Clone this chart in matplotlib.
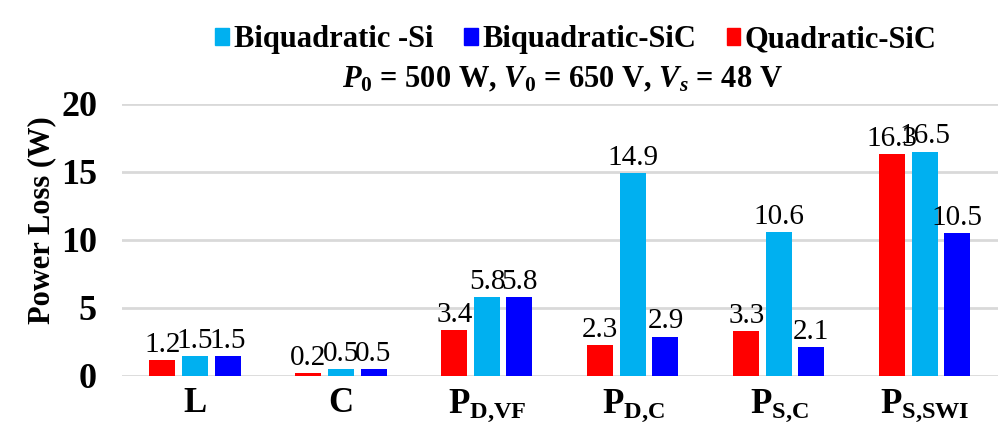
import numpy as np
import matplotlib.pyplot as plt
from matplotlib.patches import Patch

plt.rcParams['font.family'] = 'Liberation Serif'
plt.rcParams['mathtext.fontset'] = 'custom'
plt.rcParams['mathtext.rm'] = 'Liberation Serif:bold'
plt.rcParams['mathtext.bf'] = 'Liberation Serif:bold'
plt.rcParams['mathtext.it'] = 'Liberation Serif:italic:bold'

# --- data ---
categories = ["L", "C", r"$\mathbf{P_{D{,}VF}}$", r"$\mathbf{P_{D{,}C}}$",
              r"$\mathbf{P_{S{,}C}}$", r"$\mathbf{P_{S{,}SWI}}$"]
quad_sic = [1.2, 0.2, 3.4, 2.3, 3.3, 16.3]
biquad_si = [1.5, 0.5, 5.8, 14.9, 10.6, 16.5]
biquad_sic = [1.5, 0.5, 5.8, 2.9, 2.1, 10.5]
yticks = [0, 5, 10, 15, 20]

RED = '#FF0000'
LBLUE = '#00B0F0'
BLUE = '#0000FF'
GRID = '#D9D9D9'

fig = plt.figure(figsize=(10.02, 4.46), dpi=100)
ax = fig.add_axes([0.1218, 0.157, 0.874, 0.61])

x = np.arange(len(categories))
w = 0.178
step = 0.223
series = [(quad_sic, RED), (biquad_si, LBLUE), (biquad_sic, BLUE)]
for k, (vals, col) in enumerate(series):
    pos = x + (k - 1) * step
    ax.bar(pos, vals, width=w, color=col, zorder=3)
    for px, v in zip(pos, vals):
        ax.text(px, v + 0.15, f"{v:.1f}", ha='center', va='bottom',
                fontsize=21, color='black', zorder=4)

ax.set_xlim(-0.5, len(categories) - 0.5)
ax.set_ylim(0, 20)
ax.set_yticks(yticks)
ax.set_yticklabels([str(t) for t in yticks], fontsize=26, fontweight='bold')
ax.set_xticks(x)
ax.set_xticklabels(categories, fontsize=25, fontweight='bold')
ax.tick_params(axis='both', length=0)
ax.tick_params(axis='y', pad=18)
ax.tick_params(axis='x', pad=8)
for s in ax.spines.values():
    s.set_visible(False)
ax.grid(axis='y', color=GRID, linewidth=2, zorder=0)
ax.set_axisbelow(True)

fig.text(0.042, 1 - 220 / 446, "Power Loss (W)", rotation=90, ha='center', va='center',
         fontsize=22, fontweight='bold')

handles = [Patch(color=LBLUE), Patch(color=BLUE), Patch(color=RED)]
labels = ["Biquadratic -Si", "Biquadratic-SiC", "Quadratic-SiC"]
fig.legend(handles, labels, loc='center', bbox_to_anchor=(0.575, 1 - 40 / 446), ncol=3,
           frameon=False, prop={'family': 'Liberation Serif', 'weight': 'bold', 'size': 22},
           handlelength=0.45, handleheight=0.45, handletextpad=0.15, columnspacing=1.0)

fig.text(0.561, 1 - 80 / 446,
         r"$P_{\mathit{0}}$ = 500 W, $V_{\mathit{0}}$ = 650 V, $V_{\mathit{s}}$ = 48 V",
         ha='center', va='center', fontsize=22, fontweight='bold')

fig.savefig("out.png", dpi=100)
